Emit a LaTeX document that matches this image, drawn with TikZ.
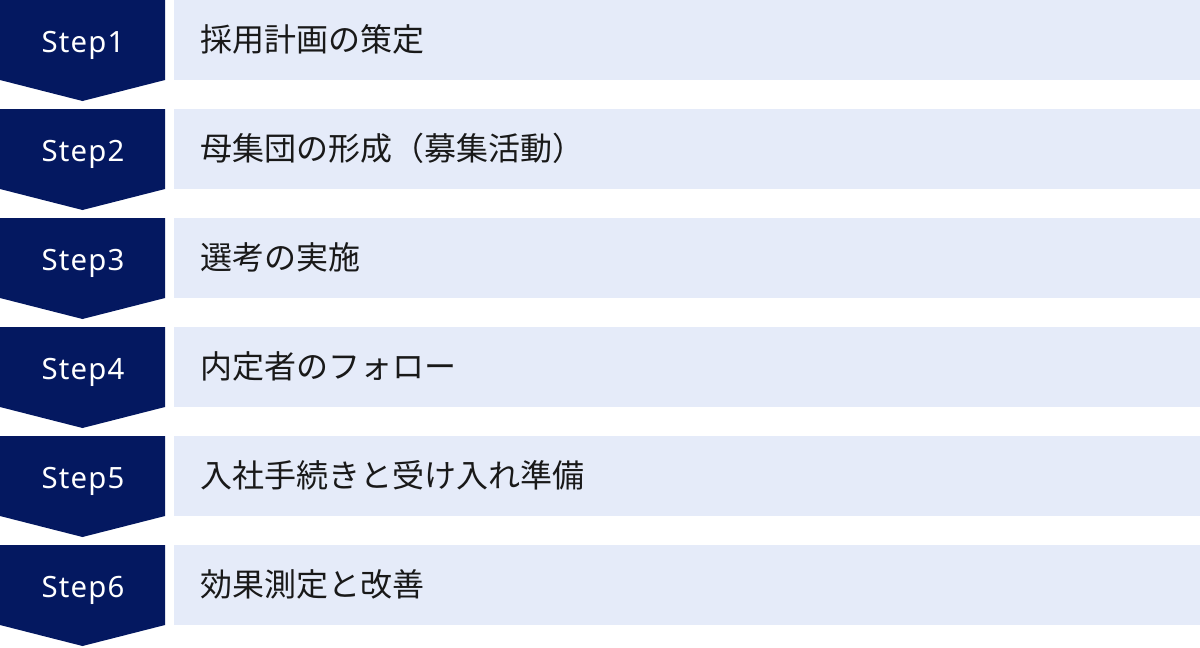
\documentclass[tikz,border=0pt]{standalone}
\usepackage{fontspec}
\setmainfont{Noto Sans CJK JP}
\newfontfamily\stepfont[LetterSpace=4]{Noto Sans}
\usetikzlibrary{positioning}
\definecolor{navy}{RGB}{4,24,96}
\definecolor{paleblue}{RGB}{229,235,249}

\begin{document}
\begin{tikzpicture}[x=0.75pt, y=-0.75pt,
  steplabel/.style={text=white, font=\stepfont\fontsize{22}{28}\selectfont, anchor=base, inner sep=0pt},
  stepband/.style={fill=paleblue, minimum width=769.5pt, minimum height=60pt, inner sep=0pt, anchor=north west},
  steptext/.style={text=black!90, font=\fontsize{24}{28}\selectfont, anchor=base west, inner sep=0pt}]
  \useasboundingbox (0,0) rectangle (1200,647);

  \fill[navy] (0,0) -- (165,0) -- (165,80) -- (82.5,101) -- (0,80) -- cycle;
  \node[steplabel] (step1) at (83,52) {Step1};
  \node[stepband] (band1) at (174,0) {};
  \node[steptext] (text1) at (200,51) {採用計画の策定};

  \fill[navy] (0,109) -- (165,109) -- (165,189) -- (82.5,210) -- (0,189) -- cycle;
  \node[steplabel] (step2) at (83,161) {Step2};
  \node[stepband] (band2) at (174,109) {};
  \node[steptext] (text2) at (200,160) {母集団の形成（募集活動）};

  \fill[navy] (0,218) -- (165,218) -- (165,298) -- (82.5,319) -- (0,298) -- cycle;
  \node[steplabel] (step3) at (83,270) {Step3};
  \node[stepband] (band3) at (174,218) {};
  \node[steptext] (text3) at (200,269) {選考の実施};

  \fill[navy] (0,327) -- (165,327) -- (165,407) -- (82.5,428) -- (0,407) -- cycle;
  \node[steplabel] (step4) at (83,379) {Step4};
  \node[stepband] (band4) at (174,327) {};
  \node[steptext] (text4) at (200,378) {内定者のフォロー};

  \fill[navy] (0,436) -- (165,436) -- (165,516) -- (82.5,537) -- (0,516) -- cycle;
  \node[steplabel] (step5) at (83,488) {Step5};
  \node[stepband] (band5) at (174,436) {};
  \node[steptext] (text5) at (200,487) {入社手続きと受け入れ準備};

  \fill[navy] (0,545) -- (165,545) -- (165,625) -- (82.5,646) -- (0,625) -- cycle;
  \node[steplabel] (step6) at (83,597) {Step6};
  \node[stepband] (band6) at (174,545) {};
  \node[steptext] (text6) at (200,596) {効果測定と改善};

\end{tikzpicture}
\end{document}
